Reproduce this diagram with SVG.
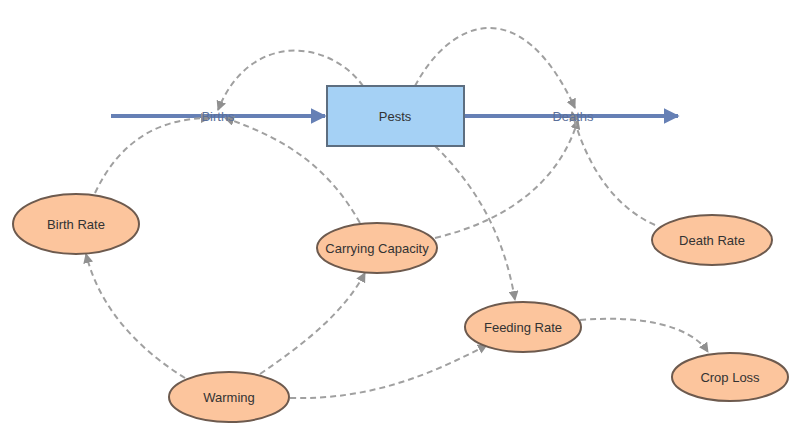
<svg xmlns="http://www.w3.org/2000/svg" width="800" height="437" viewBox="0 0 800 437">
<style>
.n{fill:#fcc59d;stroke:#6d5a4e;stroke-width:2}
.t{font-family:"Comic Sans MS","Liberation Sans",sans-serif;font-size:13px;text-anchor:middle;dominant-baseline:central;fill:#333}
.l{fill:none;stroke:#a0a0a0;stroke-width:2;stroke-dasharray:6,4;marker-end:url(#a)}
.f{stroke:#6680b5;stroke-width:4;fill:none;marker-end:url(#b)}
.ft{font-family:"Comic Sans MS","Liberation Sans",sans-serif;font-size:13px;text-anchor:middle;dominant-baseline:central;fill:#5a6f9a}
</style>
<defs>
<marker id="a" viewBox="0 0 10 10" refX="9" refY="5" markerWidth="5" markerHeight="5" orient="auto"><path d="M0,0L10,5L0,10z" fill="#909090"/></marker>
<marker id="b" viewBox="0 0 10 10" refX="9" refY="5" markerWidth="4" markerHeight="4" orient="auto"><path d="M0,0L10,5L0,10z" fill="#6680b5"/></marker>
</defs>
<rect width="800" height="437" fill="#fff"/>
<g id="flows">
<path class="f" d="M111,116H325"/>
<path class="f" d="M465,116H678"/>
</g>
<g id="connectors">
<path class="l" d="M363,86C330,40 250,30 218,110"/>
<path class="l" d="M95,193C120,140 160,118 210,118"/>
<path class="l" d="M360,223C330,170 290,140 225,118"/>
<path class="l" d="M415,86C450,20 520,-10 575,108"/>
<path class="l" d="M435,238C510,220 560,180 578,120"/>
<path class="l" d="M655,225C610,205 585,160 572,112"/>
<path class="l" d="M435,146C480,190 505,240 515,300"/>
<path class="l" d="M580,320C640,315 690,325 708,352"/>
<path class="l" d="M185,378C140,350 100,310 86,254"/>
<path class="l" d="M260,374C310,340 345,310 365,273"/>
<path class="l" d="M290,398C370,400 430,375 487,345"/>
</g>
<g id="pests"><rect x="327" y="86" width="137" height="60" fill="#a5d1f5" stroke="#5d6e80" stroke-width="2"/><text class="t" x="395" y="116">Pests</text></g>
<g id="births"><text class="ft" x="218" y="116">Births</text></g>
<g id="deaths"><text class="ft" x="573" y="116">Deaths</text></g>
<g id="birthrate"><ellipse class="n" cx="76" cy="224" rx="63" ry="30"/><text class="t" x="76" y="224">Birth Rate</text></g>
<g id="capacity"><ellipse class="n" cx="377" cy="248" rx="60" ry="25"/><text class="t" x="377" y="248" font-size="12">Carrying Capacity</text></g>
<g id="deathrate"><ellipse class="n" cx="712" cy="240" rx="60" ry="25"/><text class="t" x="712" y="240">Death Rate</text></g>
<g id="feeding"><ellipse class="n" cx="523" cy="327" rx="58" ry="25"/><text class="t" x="523" y="327">Feeding Rate</text></g>
<g id="croploss"><ellipse class="n" cx="730" cy="377" rx="58" ry="24"/><text class="t" x="730" y="377">Crop Loss</text></g>
<g id="warming"><ellipse class="n" cx="229" cy="397" rx="60" ry="25"/><text class="t" x="229" y="397">Warming</text></g>
</svg>
